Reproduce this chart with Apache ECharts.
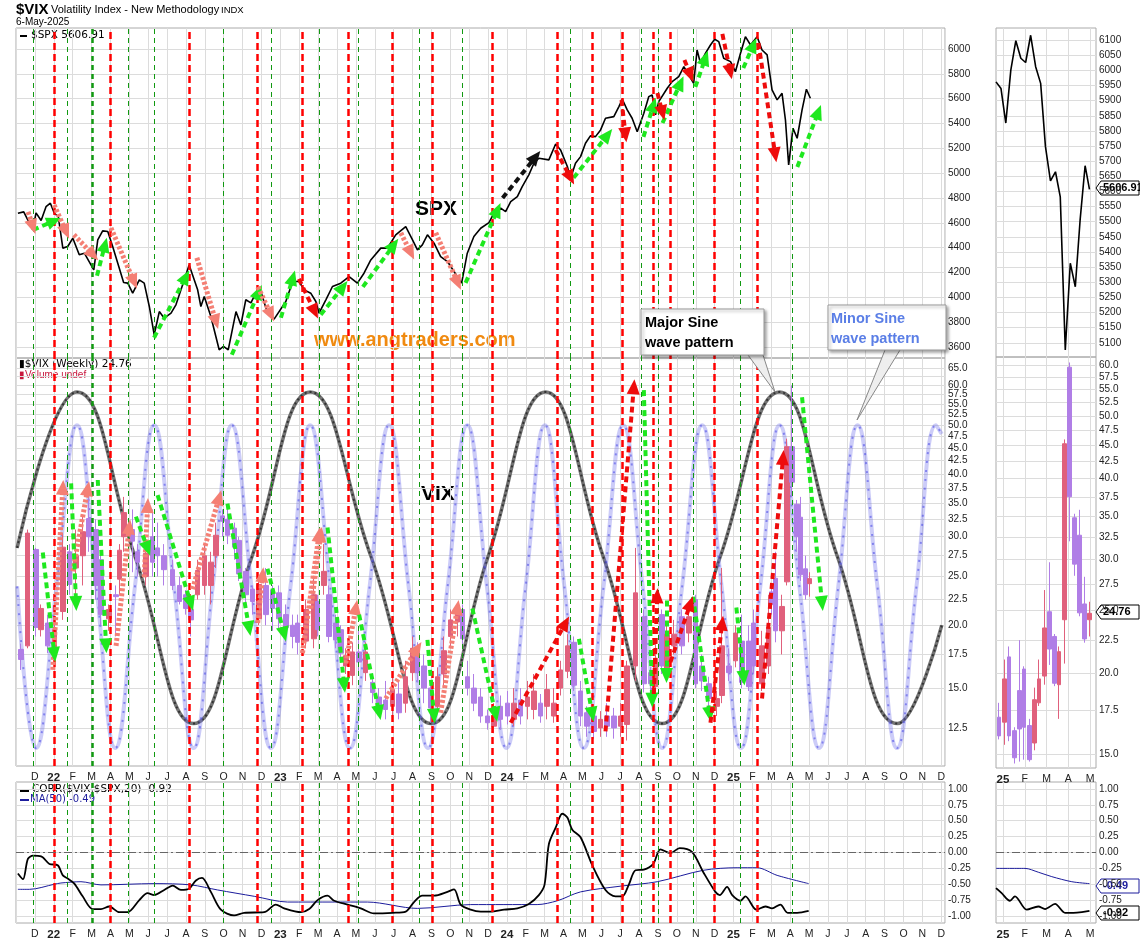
<!DOCTYPE html>
<html>
<head>
<meta charset="utf-8">
<script src="https://cdn.jsdelivr.net/npm/echarts@6/dist/echarts.min.js"></script>
<style>
  html, body { margin: 0; padding: 0; background: #fff; }
  #chart { width: 1140px; height: 941px; }
</style>
</head>
<body>
<div id="chart"></div>
<script>
// x values are months counted from Jan 2022 (0 = Jan 2022)

// ---- SPX weekly (main pane)
const spxM = [-1.9, -1.59, -1.11, -0.94, -0.67, -0.41, -0.18, 0.03, 0.24, 0.48, 0.74, 1.01, 1.35, 1.62, 2.12, 2.33, 2.59, 2.86, 3.12, 3.39, 3.7, 3.92, 4.18, 4.53, 4.79, 5.06, 5.32, 5.59, 5.85, 6.21, 6.47, 6.91, 7.17, 7.62, 7.79, 7.97, 8.32, 8.76, 8.99, 9.24, 9.65, 9.91, 10.17, 10.44, 10.7, 10.97, 11.32, 11.67, 12.29, 12.56, 12.73, 12.99, 13.26, 13.61, 13.88, 14.05, 14.41, 14.76, 15.2, 15.64, 16.08, 16.43, 16.79, 17.32, 17.67, 18.11, 18.64, 19.0, 19.26, 19.52, 19.79, 20.14, 20.49, 20.85, 21.6, 21.9, 22.25, 22.61, 23.05, 23.31, 23.67, 23.93, 24.2, 24.55, 24.81, 25.16, 25.43, 25.69, 26.22, 26.58, 26.84, 27.2, 27.37, 27.63, 27.9, 28.16, 28.42, 28.69, 28.96, 29.22, 29.66, 29.93, 30.11, 30.37, 30.63, 30.9, 31.25, 31.51, 31.69, 31.87, 32.04, 32.49, 32.75, 33.1, 33.37, 33.89, 34.07, 34.25, 34.51, 34.78, 35.0, 35.22, 35.48, 35.84, 36.1, 36.37, 36.63, 36.9, 37.25, 37.51, 37.78, 38.04, 38.31, 38.57, 38.75, 38.92, 39.15, 39.37, 39.63, 39.86, 40.07]
const spxV = [4677, 4688, 4543, 4680, 4618, 4730, 4758, 4677, 4650, 4396, 4409, 4476, 4342, 4355, 4221, 4462, 4535, 4530, 4409, 4275, 4119, 4114, 4033, 4140, 4114, 3926, 3698, 3885, 3832, 3872, 3939, 4140, 4261, 4060, 3926, 4006, 3845, 3577, 3604, 3577, 3885, 3778, 3980, 3955, 4033, 4047, 3872, 3824, 3966, 4087, 4127, 4127, 4060, 4033, 3966, 3872, 3980, 4087, 4114, 4167, 4114, 4194, 4301, 4396, 4396, 4503, 4570, 4462, 4382, 4422, 4503, 4436, 4328, 4288, 4114, 4355, 4489, 4556, 4602, 4677, 4718, 4690, 4771, 4811, 4892, 4986, 5080, 5120, 5107, 5235, 5187, 5053, 4959, 5080, 5133, 5241, 5300, 5294, 5348, 5442, 5455, 5536, 5595, 5509, 5442, 5334, 5482, 5616, 5630, 5469, 5576, 5684, 5737, 5777, 5858, 5724, 5992, 5885, 5965, 6032, 6078, 6059, 5925, 5898, 5817, 5965, 6099, 6032, 6099, 5992, 5952, 5670, 5590, 5643, 5428, 5066, 5362, 5281, 5509, 5676, 5603]

// ---- VIX weekly candles (main pane): month, open, close, low, high
const vixM = [-1.73, -1.38, -0.94, -0.67, -0.32, 0.03, 0.48, 0.83, 1.18, 1.55, 1.87, 2.24, 2.5, 2.93, 3.3, 3.47, 3.72, 4.18, 4.44, 4.88, 5.24, 5.5, 5.85, 6.3, 6.65, 7.0, 7.26, 7.62, 7.97, 8.32, 8.59, 8.94, 9.2, 9.56, 9.82, 10.17, 10.53, 10.88, 11.23, 11.59, 11.94, 12.29, 12.65, 12.91, 13.35, 13.79, 13.97, 14.32, 14.58, 14.94, 15.2, 15.47, 15.82, 16.17, 16.52, 16.88, 17.23, 17.58, 17.94, 18.29, 18.64, 19.0, 19.26, 19.61, 19.96, 20.32, 20.67, 21.02, 21.38, 21.64, 21.9, 22.25, 22.61, 22.96, 23.31, 23.67, 24.02, 24.37, 24.72, 25.08, 25.43, 25.78, 26.13, 26.49, 26.84, 27.2, 27.55, 27.9, 28.25, 28.61, 28.96, 29.31, 29.66, 30.02, 30.37, 30.81, 31.25, 31.6, 31.87, 32.22, 32.49, 32.84, 33.28, 33.63, 33.98, 34.34, 34.69, 35.13, 35.4, 35.75, 36.1, 36.46, 36.81, 37.07, 37.51, 37.86, 38.04, 38.22, 38.57, 38.84, 39.1, 39.37, 39.54, 39.8, 40.03]
const vixO = [17.9, 18.2, 28.3, 19.6, 20.2, 17.9, 21.3, 28, 26, 27.5, 32.6, 31, 27, 20.6, 23, 24.7, 30, 31, 28, 25, 30, 28.5, 27.5, 25.8, 24, 23, 21.5, 23, 24, 24, 27.5, 33, 32.5, 31.2, 29.5, 25.6, 23.6, 20.6, 24, 23.5, 23.2, 21, 20, 20.2, 18.6, 18.8, 22.3, 24, 23, 20.2, 19.6, 16.6, 15.9, 17.7, 16.1, 15.4, 14.4, 14.2, 13.8, 14.6, 14, 16.1, 18, 16.6, 15, 13.8, 16, 19, 20.3, 21.5, 15.8, 15, 14.4, 13.2, 12.6, 13.8, 14, 13, 14.2, 13.8, 13.6, 14, 13.8, 13.2, 15, 16.2, 18.5, 14.8, 13.4, 13.2, 12.5, 13.2, 13.2, 12.6, 12.7, 16.6, 20.8, 16.1, 15.1, 21, 16.4, 18.2, 20.8, 19.3, 22.5, 16.6, 15.3, 13.8, 14.5, 16.6, 17, 18.6, 18.6, 20.2, 15.3, 16.6, 23.3, 24.8, 19.5, 24.4, 45.3, 34.8, 32.8, 25.9, 24.2]
const vixC = [17.1, 30.5, 19.8, 21.6, 18.2, 19.6, 28.6, 24.1, 27.5, 30.7, 30, 24, 21, 21.5, 22.8, 28.2, 33.5, 29.4, 26.7, 27.8, 26.7, 27.5, 25.8, 24, 22.3, 21.6, 20.5, 25.7, 27.5, 26.7, 30.2, 32.2, 30.2, 28.6, 25.3, 23, 22.3, 24.1, 21, 21.6, 20.6, 19.8, 19, 18.5, 21.5, 23, 19.6, 25.6, 19, 18.7, 17.6, 17.4, 17.7, 16.9, 17.7, 14.7, 13.6, 13.6, 14.9, 13.4, 15.8, 18, 16.1, 15, 13.7, 15.8, 17.8, 20.5, 21.6, 18.8, 15, 14, 13.2, 12.8, 13.2, 13, 13.2, 14, 13.2, 14.4, 14.8, 13.2, 14.9, 14, 16.3, 18.2, 15.2, 13.2, 12.6, 12.3, 13, 12.6, 12.5, 13.2, 16.6, 23.2, 15.3, 15.3, 17.2, 16.6, 19.2, 19.2, 18.2, 20.8, 15.3, 15.5, 14.3, 14.3, 18.2, 16.1, 19.3, 15.4, 15.1, 16.6, 18.2, 19.8, 22, 19.5, 21.8, 45.3, 38.5, 30, 25.2, 23, 24.76]
const vixL = [16.3, 18, 19, 19, 17.6, 16.5, 20.5, 23, 22.5, 24, 28, 22.5, 20, 19.5, 19, 23, 28, 25.5, 25, 24, 25, 25, 24, 23.5, 22, 21, 19, 22.5, 23, 22, 26, 30, 29, 27, 24.5, 22, 21, 20, 20, 19.5, 19.6, 18.5, 18, 17.5, 18, 18, 19, 23, 18.5, 18, 17, 16, 15.2, 16, 15.5, 14, 13.3, 13, 13, 13, 13.4, 15.5, 15.4, 14, 12.8, 13.5, 15, 18, 19, 18, 14.5, 13.5, 12.8, 12.4, 12.2, 12.4, 12.7, 12.6, 12.7, 13, 13, 12.8, 13, 12.8, 14.5, 15.7, 14.8, 12.6, 12, 11.9, 12, 12, 11.9, 12, 11.8, 15.5, 14.7, 14.5, 14.7, 16, 16, 17.5, 17.5, 18.5, 15, 14.8, 13.8, 13.2, 14, 15.5, 16.5, 15, 14.8, 16, 14.8, 16, 21, 18.5, 17.5, 24, 36, 28, 24.5, 22.5, 22.8]
const vixH = [18.4, 31, 28.5, 22, 21, 20.5, 30.5, 29, 31, 33, 37, 32.5, 28, 22, 24, 29, 36, 34, 29, 30, 34, 32, 29, 27, 25, 23.5, 22, 27, 29, 28, 32, 34, 34, 32, 30, 26, 24, 25, 26, 24, 24, 22, 21, 21, 22.5, 25, 23, 29, 24, 21, 20, 18, 18.5, 19.5, 18.5, 16, 15, 15.5, 16, 15.5, 17, 19, 18.5, 17.5, 15.5, 16.5, 19, 21.5, 22, 22, 17, 16, 15, 13.6, 14, 14.5, 14.8, 15, 15, 15.5, 16, 14.6, 16, 15, 17, 19.2, 19, 15.5, 13.8, 13.5, 13.5, 14, 13.7, 14, 17, 28.5, 21.5, 16.5, 18.5, 21.5, 20, 20.5, 21.5, 21.5, 23, 17.5, 15.8, 14.8, 26, 18, 20, 21, 20, 21.5, 19.5, 23, 24, 28, 23, 47, 60, 35.5, 36, 27.5, 25.5]

// ---- sine patterns drawn over the VIX pane
const majorM = [-1.94, 1.23, 4.3, 7.41, 10.5, 13.58, 16.8, 20.0, 23.0, 26.05, 29.1, 32.22, 35.3, 38.44, 41.5, 44.69, 47.03]
const majorV = [28.5, 58.2, 27.4, 12.75, 27.4, 58.2, 27.4, 12.75, 27.4, 58.2, 27.4, 12.75, 27.4, 58.2, 27.4, 12.75, 20.0]
const minorM = [-1.94, -0.94, 0.15, 1.23, 2.25, 3.26, 4.3, 5.32, 6.37, 7.41, 8.42, 9.43, 10.47, 11.5, 12.54, 13.58, 14.64, 15.69, 16.73, 17.76, 18.79, 19.82, 20.86, 21.9, 22.94, 23.97, 24.99, 26.01, 27.04, 28.07, 29.12, 30.16, 31.19, 32.22, 33.28, 34.34, 35.37, 36.4, 37.42, 38.44, 39.49, 40.53, 41.55, 42.57, 43.62, 44.66, 45.69, 46.72, 47.03]
const minorV = [23.9, 11.4, 23.9, 50, 23.9, 11.4, 23.9, 50, 23.9, 11.4, 23.9, 50, 23.9, 11.4, 23.9, 50, 23.9, 11.4, 23.9, 50, 23.9, 11.4, 23.9, 50, 23.9, 11.4, 23.9, 50, 23.9, 11.4, 23.9, 50, 23.9, 11.4, 23.9, 50, 23.9, 11.4, 23.9, 50, 23.9, 11.4, 23.9, 50, 23.9, 11.4, 23.9, 50, 48]

// ---- correlation pane
const corrM = [-1.9, -1.63, -1.37, -1.1, -0.67, -0.23, 0.21, 0.48, 0.74, 1.09, 1.53, 2.06, 2.5, 2.94, 3.47, 3.91, 4.53, 4.97, 5.32, 5.85, 6.3, 6.73, 7.17, 7.53, 7.85, 8.32, 8.85, 9.55, 10.08, 11.14, 11.76, 12.2, 13.09, 13.53, 13.97, 14.5, 14.85, 15.56, 16.26, 16.96, 17.94, 18.64, 19.08, 19.52, 20.14, 20.85, 21.2, 21.55, 22.08, 22.61, 23.23, 23.85, 24.55, 25.16, 25.69, 25.99, 26.22, 26.58, 26.93, 27.2, 27.46, 27.9, 28.52, 29.22, 29.75, 30.11, 30.45, 30.81, 31.25, 31.75, 32.13, 32.66, 33.15, 33.8, 34.4, 35.04, 35.27, 35.66, 35.93, 36.37, 36.63, 37.21, 37.69, 38.04, 38.48, 38.87, 39.37, 39.98]
const corrV = [-0.33, -0.42, -0.1, -0.05, -0.06, -0.18, -0.2, -0.36, -0.41, -0.49, -0.69, -0.89, -0.89, -0.85, -0.94, -0.94, -0.75, -0.64, -0.67, -0.59, -0.52, -0.59, -0.57, -0.44, -0.4, -0.62, -0.9, -0.99, -0.95, -0.94, -0.82, -0.88, -0.94, -0.89, -0.75, -0.68, -0.76, -0.82, -0.88, -0.96, -0.95, -0.93, -0.78, -0.68, -0.68, -0.62, -0.58, -0.82, -0.9, -0.93, -0.93, -0.9, -0.88, -0.81, -0.67, -0.51, 0.13, 0.39, 0.61, 0.55, 0.36, 0.24, -0.2, -0.59, -0.69, -0.69, -0.51, -0.28, -0.27, -0.18, 0.05, -0.01, 0.07, 0.01, -0.31, -0.62, -0.67, -0.54, -0.67, -0.76, -0.69, -0.9, -0.85, -0.88, -0.82, -0.95, -0.95, -0.92]
const maM = [-1.9, -1.29, 0.03, 0.38, 1.44, 2.5, 5.32, 7.26, 8.68, 10.62, 12.38, 14.85, 16.61, 19.26, 22.08, 25.6, 26.67, 27.9, 30.02, 31.96, 34.4, 36.19, 37.25, 38.31, 39.98]
const maV = [-0.58, -0.58, -0.5, -0.48, -0.46, -0.51, -0.49, -0.51, -0.59, -0.69, -0.78, -0.78, -0.78, -0.88, -0.82, -0.82, -0.76, -0.62, -0.53, -0.46, -0.28, -0.24, -0.24, -0.36, -0.49]

// ---- right side panel (Jan-May 2025)
const rSpxM = [35.68, 35.91, 36.13, 36.36, 36.59, 36.82, 37.04, 37.27, 37.5, 37.73, 37.95, 38.18, 38.41, 38.63, 38.86, 39.09, 39.32, 39.54, 39.77, 39.97]
const rSpxV = [5962, 5940, 5826, 6001, 6098, 6040, 6026, 6116, 6012, 5957, 5748, 5635, 5665, 5582, 5076, 5363, 5285, 5505, 5685, 5606.91]
const rVixM = [35.82, 36.06, 36.28, 36.52, 36.75, 36.97, 37.21, 37.44, 37.66, 37.9, 38.13, 38.36, 38.57, 38.82, 39.05, 39.28, 39.51, 39.74, 39.97]
const rVixO = [17.1, 16.8, 21.2, 16.3, 18.8, 20.3, 16.6, 15.6, 18.0, 19.8, 24.9, 22.8, 19.2, 24.2, 59.5, 34.8, 32.7, 25.6, 24.2]
const rVixC = [16.0, 19.6, 16.0, 14.8, 16.4, 16.5, 14.7, 18.2, 19.6, 23.5, 21.8, 19.3, 21.6, 45.3, 37.5, 29.5, 24.8, 22.6, 24.76]
const rVixL = [15.8, 15.5, 15.7, 14.5, 14.6, 14.7, 14.6, 15.2, 17.8, 19.2, 20.6, 19.1, 17.0, 20.7, 32.0, 28.3, 24.5, 22.3, 22.8]
const rVixH = [18.0, 21.0, 22.0, 16.5, 22.5, 20.5, 17.0, 19.0, 21.0, 26.9, 29.7, 23.0, 22.0, 46.0, 60.5, 35.3, 35.8, 28.2, 25.8]
const rCorrM = [35.68, 35.94, 36.32, 36.55, 37.09, 37.62, 37.93, 38.39, 38.85, 39.23, 39.62, 39.97]
const rCorrV = [-0.56, -0.64, -0.76, -0.69, -0.9, -0.85, -0.89, -0.81, -0.95, -0.95, -0.94, -0.92]
const rMaM = [35.68, 37.01, 37.62, 38.24, 39.16, 39.97]
const rMaV = [-0.25, -0.25, -0.31, -0.38, -0.46, -0.49]

// ---- ticks
const spxTicks = [3600, 3800, 4000, 4200, 4400, 4600, 4800, 5000, 5200, 5400, 5600, 5800, 6000]
const vixTicks = [12.5, 15, 17.5, 20, 22.5, 25, 27.5, 30, 32.5, 35, 37.5, 40, 42.5, 45, 47.5, 50, 52.5, 55, 57.5, 60, 62.5, 65]
const corrTicks = [-1, -0.75, -0.5, -0.25, 0, 0.25, 0.5, 0.75, 1]
const rSpxTicks = [5100, 5150, 5200, 5250, 5300, 5350, 5400, 5450, 5500, 5550, 5600, 5650, 5700, 5750, 5800, 5850, 5900, 5950, 6000, 6050, 6100]
const rVixTicks = [15, 17.5, 20, 22.5, 25, 27.5, 30, 32.5, 35, 37.5, 40, 42.5, 45, 47.5, 50, 52.5, 55, 57.5, 60]
const monthLetters = ['J', 'F', 'M', 'A', 'M', 'J', 'J', 'A', 'S', 'O', 'N', 'D']
const rMonthTicks = [36, 37, 38, 39, 40]

// ---- cycle lines (month positions)
const redLines = [0.0, 2.98, 7.16, 10.79, 13.14, 15.61, 17.94, 20.02, 23.23, 26.67, 28.52, 30.11, 31.75, 32.66, 34.99, 37.25]
const greenLines = [-1.11, 0.74, 2.06, 3.93, 5.31, 8.99, 11.5, 14.04, 16.1, 19.33, 21.64, 27.37, 31.11, 31.99, 33.86, 36.37, 39.13]

// ---- arrows [m1, v1, m2, v2]
const spxGreen = [[-2.52, 4382, -1.57, 4623], [-1.1, 4543, 0.02, 4615], [2.29, 4173, 2.71, 4422], [5.31, 3674, 6.99, 4165], [9.43, 3537, 10.86, 4044], [12.03, 3835, 12.66, 4157], [14.14, 3859, 15.31, 4084], [16.37, 4084, 18.01, 4422], [21.81, 4116, 23.5, 4704], [27.53, 4962, 29.33, 5308], [31.23, 5292, 31.76, 5549], [32.24, 5404, 33.19, 5726], [33.98, 5694, 34.51, 5928], [36.52, 5847, 37.05, 6032], [39.38, 5050, 40.49, 5493]]
const spxPink = [[-1.36, 4688, -1.1, 4567], [0.02, 4744, 0.65, 4527], [1.07, 4503, 2.08, 4342], [3.03, 4559, 4.25, 4124], [7.58, 4318, 8.59, 3802], [10.81, 4084, 11.5, 3859], [18.38, 4519, 18.91, 4358], [20.23, 4519, 21.4, 4116]]
const spxRed = [[12.98, 4149, 13.82, 3883], [26.58, 5187, 27.37, 4962], [30.07, 5589, 30.28, 5308], [31.97, 5646, 32.24, 5485], [33.4, 5911, 33.72, 5791], [35.41, 6121, 35.83, 5815], [37.32, 6048, 38.21, 5147]]
const spxBlack = [[23.77, 4800, 25.52, 5131]]
const vixGreen = [[-2.79, 23.0, -2.42, 17.1], [-0.58, 27.9, 0.03, 17.5], [0.92, 38.3, 1.18, 22.1], [2.33, 38.9, 2.77, 18.2], [4.35, 32.9, 4.97, 28.4], [5.5, 36.3, 7.26, 22.1], [9.2, 34.9, 10.35, 19.7], [11.32, 25.9, 12.2, 19.2], [14.5, 31.3, 15.38, 15.2], [16.17, 21.0, 17.23, 13.4], [19.79, 18.7, 20.14, 13.2], [22.17, 21.6, 23.4, 13.3], [27.81, 18.8, 28.52, 13.3], [31.25, 58.7, 31.69, 14.2], [32.45, 22.4, 32.45, 15.9], [33.86, 22.8, 34.74, 13.3], [36.15, 21.7, 36.54, 15.7], [39.63, 56.8, 40.69, 22.1]]
const vixPink = [[-2.26, 14.2, -1.36, 29.6], [-0.05, 16.3, 0.48, 37.6], [1.01, 25.6, 1.8, 37.4], [3.3, 18.2, 4.0, 31.4], [4.79, 24.9, 4.97, 34.6], [7.35, 23.6, 8.76, 35.9], [10.8, 20.2, 11.06, 25.2], [13.17, 17.6, 14.05, 30.3], [13.61, 21.6, 14.14, 30.3], [15.47, 16.8, 16.0, 21.7], [17.58, 14.3, 19.26, 18.0], [20.49, 13.4, 21.38, 21.7]]
const vixRed = [[24.2, 12.8, 27.1, 20.2], [29.22, 12.3, 30.72, 59.6], [31.78, 14.6, 31.96, 22.9], [32.66, 16.9, 33.72, 22.1], [34.78, 12.8, 35.4, 20.2], [37.51, 14.3, 38.62, 43.1]]

// ------------------------------------------------------------------
const zip = (a, b) => a.map((v, i) => [v, b[i]])
const candles = (m, o, c, l, h) => m.map((v, i) => [v, o[i], c[i], l[i], h[i]])

function arrowLines(list, color, type, width) {
  return list.map(a => [
    { coord: [a[0], a[1]], lineStyle: { color, type, width } },
    { coord: [a[2], a[3]] },
  ])
}

function cycleLines() {
  return [
    ...redLines.map(x => ({ xAxis: x, lineStyle: { color: '#ff0000', type: [7, 4], width: 2.5 } })),
    ...greenLines.map(x => ({ xAxis: x, lineStyle: { color: '#119911', type: [5, 4], width: x === 2.06 ? 2.5 : 1 } })),
  ]
}

const GREEN = '#1ee81e'
const PINK = '#f47f74'
const RED = '#ee0c0c'
const UP = '#e0607c'
const DOWN = '#b07ee6'

const gridLine = { show: true, lineStyle: { color: '#dcdcdc', width: 1 } }
const labelStyle = { color: '#222', fontSize: 10.5, fontFamily: 'Liberation Sans, Arial' }

function mainX(gi, showLabels) {
  return {
    type: 'value', gridIndex: gi, min: -2, max: 47.2, interval: 1,
    axisLine: { show: false }, axisTick: { show: false },
    splitLine: gridLine,
    axisLabel: {
      show: showLabels, ...labelStyle, margin: 6,
      formatter: v => {
        if (v < -1 || v > 47) return ''
        const mi = ((v % 12) + 12) % 12
        if (mi === 0) return '{y|' + String(22 + v / 12) + '}'
        return monthLetters[mi]
      },
      rich: { y: { fontWeight: 'bold', fontSize: 11.5, color: '#222' } },
    },
  }
}

function rightX(gi, showLabels) {
  return {
    type: 'value', gridIndex: gi, min: 35.68, max: 40.27,
    axisLine: { show: false },
    axisTick: { show: false, customValues: rMonthTicks },
    splitLine: gridLine,
    axisLabel: {
      show: showLabels, ...labelStyle, margin: 6, customValues: rMonthTicks,
      formatter: v => (v === 36 ? '{y|25}' : monthLetters[v - 36]),
      rich: { y: { fontWeight: 'bold', fontSize: 11.5, color: '#222' } },
    },
  }
}

function yAx(gi, type, min, max, ticks, digits) {
  return {
    type, gridIndex: gi, min, max, position: 'right', scale: true,
    axisLine: { show: false },
    axisTick: { show: false, customValues: ticks },
    splitLine: gridLine,
    axisLabel: {
      color: '#222', fontSize: 10, fontFamily: 'Liberation Sans, Arial', margin: 3,
      hideOverlap: false, showMinLabel: true, showMaxLabel: true,
      customValues: ticks, formatter: v => v.toFixed(digits),
    },
  }
}

const chart = echarts.init(document.getElementById('chart'))

const option = {
  backgroundColor: '#fff',
  animation: false,
  grid: [
    { left: 16, top: 28, width: 929, height: 330, show: true, borderColor: '#aaa', backgroundColor: 'transparent' },
    { left: 16, top: 358, width: 929, height: 408, show: true, borderColor: '#aaa', backgroundColor: 'transparent' },
    { left: 16, top: 782, width: 929, height: 143, show: true, borderColor: '#aaa', backgroundColor: 'transparent' },
    { left: 996, top: 28, width: 100, height: 329, show: true, borderColor: '#aaa', backgroundColor: 'transparent' },
    { left: 996, top: 357, width: 100, height: 411, show: true, borderColor: '#aaa', backgroundColor: 'transparent' },
    { left: 996, top: 782, width: 100, height: 145, show: true, borderColor: '#aaa', backgroundColor: 'transparent' },
  ],
  xAxis: [mainX(0, false), mainX(1, true), mainX(2, true), rightX(3, false), rightX(4, true), rightX(5, true)],
  yAxis: [
    yAx(0, 'value', 3511, 6169, spxTicks, 0),
    yAx(1, 'log', 10.5, 68, vixTicks, 1),
    yAx(2, 'value', -1.11, 1.11, corrTicks, 2),
    yAx(3, 'value', 5053, 6140, rSpxTicks, 0),
    yAx(4, 'log', 14.27, 61.7, rVixTicks, 1),
    yAx(5, 'value', -1.11, 1.11, corrTicks, 2),
  ],
  series: [
    // cycle lines per pane
    ...[0, 1, 2].map(i => ({
      type: 'line', xAxisIndex: i, yAxisIndex: i, data: [], silent: true,
      markLine: { silent: true, symbol: 'none', label: { show: false }, animation: false, data: cycleLines() },
    })),
    {
      name: 'SPX', type: 'line', xAxisIndex: 0, yAxisIndex: 0, data: zip(spxM, spxV),
      symbol: 'none', lineStyle: { color: '#000', width: 1.6 }, z: 3,
      markLine: {
        silent: true, symbol: ['none', 'triangle'], symbolSize: [13, 15], label: { show: false }, z: 5,
        data: [
          ...arrowLines(spxGreen, GREEN, [6, 4], 4),
          ...arrowLines(spxPink, PINK, [3, 2], 5),
          ...arrowLines(spxRed, RED, [6, 4], 4),
          ...arrowLines(spxBlack, '#111', [6, 4], 4),
        ],
      },
    },
    {
      name: 'major', type: 'line', xAxisIndex: 1, yAxisIndex: 1, data: zip(majorM, majorV),
      smooth: 0.45, symbol: 'none', lineStyle: { color: 'rgba(70,70,70,0.75)', width: 3.5 }, z: 2,
    },
    {
      name: 'majorDots', type: 'line', xAxisIndex: 1, yAxisIndex: 1, data: zip(majorM, majorV),
      smooth: 0.45, symbol: 'none', lineStyle: { color: '#333', width: 2, type: [2, 3] }, z: 2,
    },
    {
      name: 'minor', type: 'line', xAxisIndex: 1, yAxisIndex: 1, data: zip(minorM, minorV),
      smooth: 0.45, symbol: 'none', lineStyle: { color: 'rgba(110,110,235,0.35)', width: 4 }, z: 2,
    },
    {
      name: 'minorDots', type: 'line', xAxisIndex: 1, yAxisIndex: 1, data: zip(minorM, minorV),
      smooth: 0.45, symbol: 'none', lineStyle: { color: 'rgba(80,80,230,0.6)', width: 2, type: [2, 7] }, z: 2,
    },
    {
      name: 'VIX', type: 'candlestick', xAxisIndex: 1, yAxisIndex: 1,
      data: candles(vixM, vixO, vixC, vixL, vixH), encode: { x: 0, y: [1, 2, 3, 4] },
      barWidth: 5, z: 3,
      itemStyle: { color: UP, color0: DOWN, borderColor: UP, borderColor0: DOWN, borderWidth: 1 },
      markLine: {
        silent: true, symbol: ['none', 'triangle'], symbolSize: [13, 15], label: { show: false }, z: 5,
        data: [
          ...arrowLines(vixPink, PINK, [3, 2], 5),
          ...arrowLines(vixGreen, GREEN, [6, 4], 4),
          ...arrowLines(vixRed, RED, [6, 4], 4),
        ],
      },
    },
    {
      name: 'MA', type: 'line', xAxisIndex: 2, yAxisIndex: 2, data: zip(maM, maV),
      smooth: 0.3, symbol: 'none', lineStyle: { color: '#1c1c9c', width: 1 },
      markLine: {
        silent: true, symbol: 'none', label: { show: false },
        data: [{ yAxis: 0, lineStyle: { color: '#666', type: [8, 3, 2, 3], width: 1 } }],
      },
    },
    {
      name: 'CORR', type: 'line', xAxisIndex: 2, yAxisIndex: 2, data: zip(corrM, corrV),
      smooth: 0.3, symbol: 'none', lineStyle: { color: '#000', width: 1.8 },
    },
    {
      type: 'line', xAxisIndex: 3, yAxisIndex: 3, data: zip(rSpxM, rSpxV),
      symbol: 'none', lineStyle: { color: '#000', width: 1.6 },
    },
    {
      type: 'candlestick', xAxisIndex: 4, yAxisIndex: 4,
      data: candles(rVixM, rVixO, rVixC, rVixL, rVixH), encode: { x: 0, y: [1, 2, 3, 4] },
      barWidth: 4,
      itemStyle: { color: UP, color0: DOWN, borderColor: UP, borderColor0: DOWN, borderWidth: 1 },
    },
    {
      type: 'line', xAxisIndex: 5, yAxisIndex: 5, data: zip(rMaM, rMaV),
      smooth: 0.3, symbol: 'none', lineStyle: { color: '#1c1c9c', width: 1 },
      markLine: {
        silent: true, symbol: 'none', label: { show: false },
        data: [{ yAxis: 0, lineStyle: { color: '#666', type: [8, 3, 2, 3], width: 1 } }],
      },
    },
    {
      type: 'line', xAxisIndex: 5, yAxisIndex: 5, data: zip(rCorrM, rCorrV),
      smooth: 0.3, symbol: 'none', lineStyle: { color: '#000', width: 1.8 },
    },
  ],
  graphic: [
    { type: 'text', left: 16, top: 2, style: { text: '$VIX', font: 'bold 15px Liberation Sans, Arial', fill: '#000' } },
    { type: 'text', left: 51, top: 4, style: { text: 'Volatility Index - New Methodology', font: '11px Liberation Sans, Arial', fill: '#000' } },
    { type: 'text', left: 221, top: 5, style: { text: 'INDX', font: '9.5px Liberation Sans, Arial', fill: '#000' } },
    { type: 'text', left: 16, top: 17, style: { text: '6-May-2025', font: '10px Liberation Sans, Arial', fill: '#000' } },
    { type: 'rect', shape: { x: 20, y: 35, width: 7, height: 2 }, style: { fill: '#000' } },
    { type: 'text', left: 31, top: 30, style: { text: '$SPX 5606.91', font: '10.5px DejaVu Sans', fill: '#000' } },
    { type: 'text', left: 19, top: 359, style: { text: '\u25AE$VIX (Weekly) 24.76', font: '10.5px DejaVu Sans', fill: '#000' } },
    { type: 'text', left: 19, top: 370, style: { text: '\u25AEVolume undef', font: '10px Liberation Sans, Arial', fill: '#c8163c' } },
    { type: 'rect', shape: { x: 20, y: 790, width: 9, height: 2 }, style: { fill: '#000' } },
    { type: 'text', left: 32, top: 784, style: { text: 'CORR($VIX,$SPX,20) -0.92', font: '10.5px DejaVu Sans', fill: '#000' } },
    { type: 'rect', shape: { x: 20, y: 799, width: 9, height: 2 }, style: { fill: '#1c1c9c' } },
    { type: 'text', left: 30, top: 794, style: { text: 'MA(50) -0.49', font: '10px DejaVu Sans', fill: '#1c1c9c' } },
    { type: 'text', left: 415, top: 199, style: { text: 'SPX', font: 'bold 21px Liberation Sans, Arial', fill: '#000' } },
    { type: 'text', left: 421, top: 484, style: { text: 'VIX', font: 'bold 21px Liberation Sans, Arial', fill: '#000' } },
    { type: 'text', left: 314, top: 330, style: { text: 'www.angtraders.com', font: 'bold 20px Liberation Sans, Arial', fill: '#f08a10' } },
    // callouts
    { type: 'polyline', shape: { points: [[748, 355], [775, 392], [763, 355]] }, style: { stroke: '#888', fill: '#eee', lineWidth: 1 }, z: 20 },
    { type: 'rect', shape: { x: 641, y: 309, width: 123, height: 46 }, style: { fill: '#fff', stroke: '#999', lineWidth: 1, shadowBlur: 3, shadowColor: 'rgba(0,0,0,0.35)', shadowOffsetX: 2, shadowOffsetY: 2 }, z: 20 },
    { type: 'text', left: 645, top: 313, z: 21, style: { text: 'Major Sine\nwave pattern', font: 'bold 14.5px Liberation Sans, Arial', lineHeight: 20, fill: '#000' } },
    { type: 'polyline', shape: { points: [[885, 350], [857, 420], [900, 350]] }, style: { stroke: '#888', fill: '#eee', lineWidth: 1 }, z: 20 },
    { type: 'rect', shape: { x: 828, y: 305, width: 118, height: 45 }, style: { fill: '#fff', stroke: '#999', lineWidth: 1, shadowBlur: 3, shadowColor: 'rgba(0,0,0,0.35)', shadowOffsetX: 2, shadowOffsetY: 2 }, z: 20 },
    { type: 'text', left: 831, top: 309, z: 21, style: { text: 'Minor Sine\nwave pattern', font: 'bold 14.5px Liberation Sans, Arial', lineHeight: 20, fill: '#5a7ee6' } },
    // last value tags
    ...[['5606.91', 188, '#000'], ['24.76', 612, '#000'], ['-0.49', 886, '#1c1c9c'], ['-0.92', 913, '#000']].map(([t, y, c]) => ({
      type: 'group', z: 30, children: [
        { type: 'polygon', shape: { points: [[1096, y], [1101, y - 7], [1139, y - 7], [1139, y + 7], [1101, y + 7]] }, style: { fill: '#fff', stroke: c, lineWidth: 1 } },
        { type: 'text', x: 1103, y: y - 6, style: { text: t, font: 'bold 11px Liberation Sans, Arial', fill: c } },
      ],
    })),
  ],
}

chart.setOption(option)
</script>
</body>
</html>
